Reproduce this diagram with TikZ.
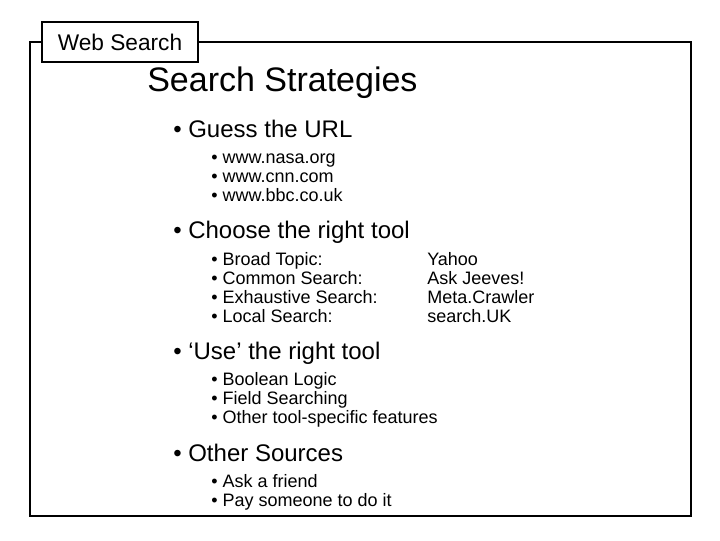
\documentclass[tikz,border=0pt]{standalone}
\usepackage{fontspec}
\setmainfont{Liberation Sans}
\begin{document}
\begin{tikzpicture}[x=0.75pt,y=-0.75pt,
  frame/.style={draw=black,line width=2.1pt},
  txt/.style={anchor=west,inner sep=0,text height=0.62em,text depth=0.0em},
  big/.style={txt,font=\fontsize{25.5}{30}\selectfont},
  lone/.style={txt,font=\fontsize{18}{22}\selectfont},
  ltwo/.style={txt,font=\fontsize{13.5}{16}\selectfont}]
\useasboundingbox (0,0) rectangle (720,540);
\draw[frame] (30,42) rectangle (691,516);
\node[frame,fill=white,minimum width=156*0.75pt,minimum height=40*0.75pt,font=\fontsize{17}{20}\selectfont,inner sep=0] (title) at (120,42) {Web Search};
\node[big] (h) at (147,87) {Search Strategies};
\node[lone] (a) at (173,133) {• Guess the URL};
\node[ltwo] (a1) at (211,159) {• www.nasa.org};
\node[ltwo] (a2) at (211,178) {• www.cnn.com};
\node[ltwo] (a3) at (211,197) {• www.bbc.co.uk};
\node[lone] (b) at (173,234) {• Choose the right tool};
\node[ltwo] (b1) at (211,261) {• Broad Topic:};
\node[ltwo] (b2) at (211,280) {• Common Search:};
\node[ltwo] (b3) at (211,299) {• Exhaustive Search:};
\node[ltwo] (b4) at (211,318) {• Local Search:};
\node[ltwo] (c1) at (427,261) {Yahoo};
\node[ltwo] (c2) at (427,280) {Ask Jeeves!};
\node[ltwo] (c3) at (427,299) {Meta.Crawler};
\node[ltwo] (c4) at (427,318) {search.UK};
\node[lone] (d) at (173,355) {• ‘Use’ the right tool};
\node[ltwo] (d1) at (211,381) {• Boolean Logic};
\node[ltwo] (d2) at (211,400) {• Field Searching};
\node[ltwo] (d3) at (211,419) {• Other tool-specific features};
\node[lone] (e) at (173,457) {• Other Sources};
\node[ltwo] (e1) at (211,483) {• Ask a friend};
\node[ltwo] (e2) at (211,502) {• Pay someone to do it};
\end{tikzpicture}
\end{document}
